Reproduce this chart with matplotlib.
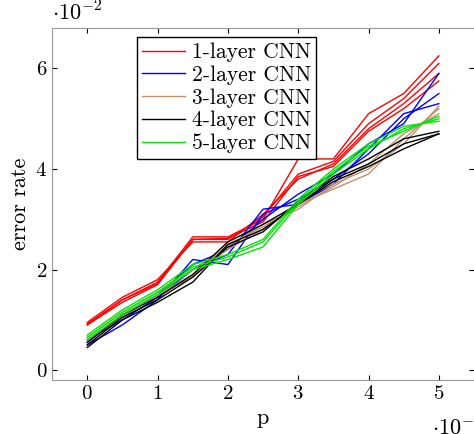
import numpy as np
import matplotlib.pyplot as plt

plt.rcParams['font.family'] = 'cmr10'
plt.rcParams['mathtext.fontset'] = 'cm'
plt.rcParams['axes.formatter.use_mathtext'] = True

p = [0, 0.5, 1, 1.5, 2, 2.5, 3, 3.5, 4, 4.5, 5]

# error rates (x 1e-2), several runs per model
cnn1 = [[0.9, 1.4, 1.75, 2.65, 2.65, 3.0, 4.2, 4.2, 5.1, 5.5, 6.25],
        [0.95, 1.45, 1.8, 2.55, 2.55, 3.1, 3.8, 4.1, 4.8, 5.3, 5.9],
        [0.9, 1.35, 1.7, 2.6, 2.6, 3.05, 3.9, 4.15, 4.9, 5.4, 6.1],
        [0.92, 1.4, 1.72, 2.6, 2.62, 2.95, 3.85, 4.05, 4.75, 5.2, 5.75]]
cnn2 = [[0.5, 0.9, 1.4, 2.2, 2.1, 3.1, 3.4, 3.8, 4.3, 5.0, 5.5],
        [0.55, 1.1, 1.5, 2.1, 2.4, 3.0, 3.5, 3.9, 4.5, 4.9, 5.9],
        [0.6, 1.0, 1.45, 2.0, 2.3, 3.2, 3.3, 3.7, 4.4, 5.1, 5.3]]
cnn3 = [[0.6, 1.1, 1.5, 1.9, 2.4, 2.8, 3.3, 3.6, 3.9, 4.6, 5.2],
        [0.65, 1.15, 1.55, 2.0, 2.45, 2.9, 3.2, 3.7, 4.0, 4.5, 5.25],
        [0.6, 1.05, 1.5, 1.85, 2.5, 2.85, 3.25, 3.65, 4.1, 4.7, 5.1]]
cnn4 = [[0.45, 1.0, 1.35, 1.75, 2.5, 2.8, 3.3, 3.8, 4.1, 4.5, 4.7],
        [0.5, 1.05, 1.4, 1.85, 2.45, 2.75, 3.35, 3.85, 4.2, 4.6, 4.75],
        [0.55, 1.1, 1.45, 1.9, 2.55, 2.9, 3.3, 3.75, 4.05, 4.4, 4.7]]
cnn5 = [[0.6, 1.1, 1.5, 2.0, 2.2, 2.45, 3.3, 3.9, 4.4, 4.8, 5.0],
        [0.65, 1.15, 1.55, 2.05, 2.25, 2.55, 3.35, 3.95, 4.45, 4.75, 5.05],
        [0.7, 1.2, 1.6, 2.1, 2.3, 2.6, 3.4, 4.0, 4.5, 4.85, 4.95]]

models = [('1-layer CNN', cnn1, 'red'), ('2-layer CNN', cnn2, 'blue'),
          ('3-layer CNN', cnn3, '#bf9170'), ('4-layer CNN', cnn4, 'black'),
          ('5-layer CNN', cnn5, '#00e600')]

fig = plt.figure(figsize=(4.74, 4.34), dpi=100)
ax = fig.add_axes([0.11, 0.124, 0.89, 0.811])
for name, runs, col in models:
    for i, r in enumerate(runs):
        ax.plot(p, r, color=col, lw=1, label=name if i == 0 else None)

ax.set_xlim(-0.5, 5.5)
ax.set_ylim(-0.2, 6.8)
ax.set_xticks([0, 1, 2, 3, 4, 5])
ax.set_yticks([0, 2, 4, 6])
ax.tick_params(direction='in', top=True, right=True, labelsize=15)
for s in ax.spines.values():
    s.set_color('#999999')
ax.set_xlabel('p', fontsize=16)
ax.set_ylabel('error rate', fontsize=16)
ax.text(0.0, 1.01, r'$\cdot 10^{-2}$', transform=ax.transAxes, fontsize=16, va='bottom')
ax.text(0.9, -0.1, r'$\cdot 10^{-3}$', transform=ax.transAxes, fontsize=16, va='top')
leg = ax.legend(loc='upper left', bbox_to_anchor=(0.175, 1.005), fontsize=15.5,
                fancybox=False, edgecolor='black', framealpha=1,
                handlelength=2, handletextpad=0.3, borderpad=0.25, labelspacing=0.15)
leg.get_frame().set_linewidth(1)
fig.savefig('out.png')
